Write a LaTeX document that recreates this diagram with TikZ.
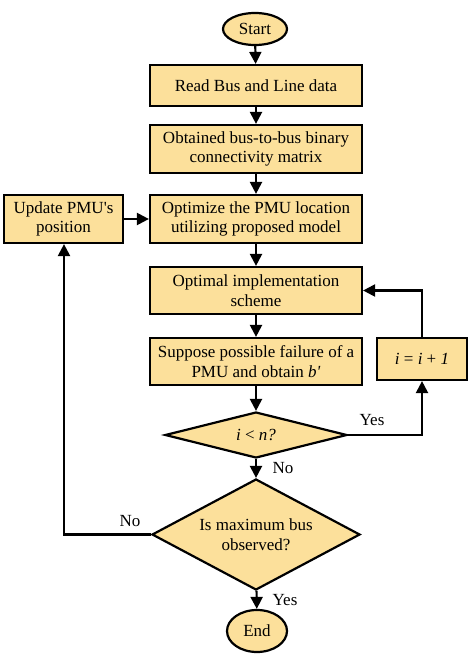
\documentclass[tikz,border=0pt]{standalone}
\usepackage{fontspec}
\setmainfont{Liberation Serif}
\usetikzlibrary{shapes.geometric,arrows.meta}
\definecolor{boxfill}{RGB}{252,224,155}
\begin{document}
\begin{tikzpicture}[x=1pt,y=-1pt,
  every node/.style={font=\fontsize{17}{19.5}\selectfont},
  proc/.style={draw, line width=2.2pt, fill=boxfill, align=center, inner sep=0pt},
  term/.style={draw, line width=2.2pt, fill=boxfill, ellipse, inner sep=0pt},
  dec/.style={draw, line width=2.2pt, fill=boxfill, diamond, inner sep=0pt, align=center},
  conn/.style={line width=2.2pt, -{Triangle[length=12pt,width=12pt]}},
  lbl/.style={font=\fontsize{17}{19.5}\selectfont}]
\useasboundingbox (0,0) rectangle (474,663);
\node[term, minimum width=64pt, minimum height=32pt] (start) at (255,29) {Start};
\node[proc, minimum width=212pt, minimum height=41pt] (read) at (256,85.5) {Read Bus and Line data};
\node[proc, minimum width=212pt, minimum height=48pt] (obt) at (256,149) {Obtained bus-to-bus binary\\connectivity matrix};
\node[proc, minimum width=212pt, minimum height=48pt] (opt) at (256,219) {Optimize the PMU location\\utilizing proposed model};
\node[proc, minimum width=119pt, minimum height=48pt] (upd) at (63.5,219) {Update PMU\textquotesingle s\\position};
\node[proc, minimum width=212pt, minimum height=47pt] (imp) at (256,290.5) {Optimal implementation\\scheme};
\node[proc, minimum width=212pt, minimum height=47pt] (sup) at (256,361.5) {Suppose possible failure of a\\PMU and obtain \textit{b\textquotesingle}};
\node[proc, minimum width=90pt, minimum height=42pt] (inc) at (422,359) {\textit{i} = \textit{i} + \textit{1}};
\node[dec, minimum width=182pt, minimum height=46pt, aspect=4] (d1) at (256,435) {\textit{i} < \textit{n?}};
\node[dec, minimum width=208pt, minimum height=111pt, aspect=1.87] (d2) at (256,534.5) {Is maximum bus\\observed?};
\node[term, minimum width=60pt, minimum height=42pt] (end) at (257,631) {End};
\coordinate (c1) at (422,435);
\coordinate (c3) at (64,534.5);
\draw[conn] (start) -- (read);
\draw[conn] (read) -- (obt);
\draw[conn] (obt) -- (opt);
\draw[conn] (upd) -- (opt);
\draw[conn] (opt) -- (imp);
\draw[conn] (imp) -- (sup);
\draw[conn] (sup) -- (d1);
\draw[conn] (d1) -- (d2);
\draw[conn] (d2) -- (end);
\draw[conn] (d1.east) -- (c1) -- (inc.south);
\draw[conn] (inc.north) |- (imp.east);
\draw[conn] (d2.west) -- (c3) -- (upd.south -| c3);
\node[lbl] (yes1) at (372,420) {Yes};
\node[lbl] (no1) at (283,468) {No};
\node[lbl] (no2) at (130,521) {No};
\node[lbl] (yes2) at (285,600) {Yes};
\end{tikzpicture}
\end{document}
